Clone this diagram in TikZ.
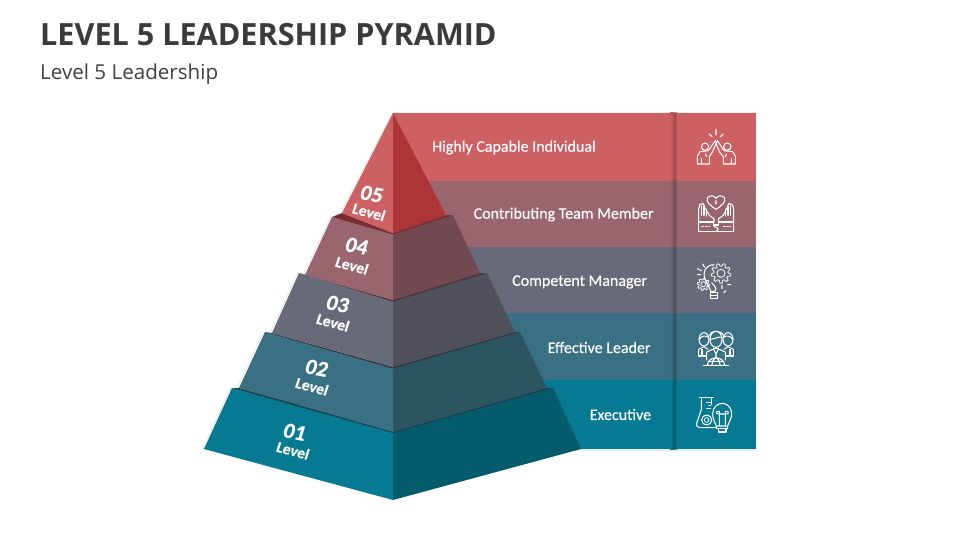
\documentclass[tikz,border=0pt]{standalone}
\usepackage{fontspec}
\setmainfont{Carlito}
\newfontfamily\titlefont{Open Sans}
\newfontfamily\bandfont[FakeBold=0.35]{Carlito}
\newfontfamily\numfont[FakeBold=0.5]{Carlito Bold}
\usetikzlibrary{calc}
\definecolor{redA}{HTML}{CD6063}
\definecolor{redB}{HTML}{AD3538}
\definecolor{redS}{HTML}{7A2D30}
\definecolor{rosA}{HTML}{99656F}
\definecolor{rosB}{HTML}{704A50}
\definecolor{rosS}{HTML}{4E3338}
\definecolor{gryA}{HTML}{676A78}
\definecolor{gryB}{HTML}{50505A}
\definecolor{gryS}{HTML}{3A3A44}
\definecolor{tlA}{HTML}{3A7083}
\definecolor{tlB}{HTML}{2C5562}
\definecolor{tlS}{HTML}{1E3E4A}
\definecolor{blA}{HTML}{067A92}
\definecolor{blB}{HTML}{035B6C}
\tikzset{
  titletext/.style={anchor=west,inner sep=0,font=\titlefont\bfseries\fontsize{30.6}{34}\selectfont,text=black!77},
  subtext/.style={anchor=west,inner sep=0,font=\titlefont\fontsize{20.6}{24}\selectfont,text=black!75},
  bandtext/.style={anchor=west,inner sep=0,text=white,font=\bandfont\fontsize{16}{18}\selectfont},
  numtext/.style={inner sep=0,text=white,transform shape,rotate=-11,xslant=0.1,font=\numfont\fontsize{22}{24}\selectfont},
  lvltext/.style={inner sep=0,text=white,transform shape,rotate=-15,xslant=0.05,font=\numfont\fontsize{15.5}{17}\selectfont},
  icon/.style={draw=white,line width=1.05pt,line join=round,line cap=round,fill=none},
  iconthin/.style={draw=white,line width=0.8pt,line join=round,line cap=round,fill=none},
  softedge/.style={draw=black!8,line width=1pt},
}
\newcommand{\gearicon}[4]{% x y r teeth (zoom units)
  \draw[iconthin] (#1,#2) circle[radius=#3*0.42];
  \draw[iconthin,domain=0:360,samples=#4*10+1,variable=\t] plot ({#1+(#3*(0.88+0.14*max(-1,min(1,4*sin(#4*\t)))))*cos(\t)},{#2+(#3*(0.88+0.14*max(-1,min(1,4*sin(#4*\t)))))*sin(\t)});
}
\begin{document}
\begin{tikzpicture}[x=1pt,y=-1pt]
\useasboundingbox (0,0) rectangle (960,540);
\fill[white] (0,0) rectangle (960,540);
\node[titletext] (title) at (40,34.5) {LEVEL 5 LEADERSHIP PYRAMID};
\node[subtext] (sub) at (40,74.5) {Level 5 Leadership};

% bands
\fill[black!8] (393,449) rectangle (758,450.5);
\fill[black!6] (393,112) rectangle (756,113);
\fill[redA] (393,113) rectangle (756,181);
\fill[rosA] (393,181) rectangle (756,247);
\fill[gryA] (393,247) rectangle (756,313);
\fill[tlA] (393,313) rectangle (756,380);
\fill[blA] (393,380) rectangle (756,449);
% divider
\foreach \ya/\yb/\c in {113/181/redA,181/247/rosA,247/313/gryA,313/380/tlA,380/449/blA}{
  \shade[left color=\c,right color=\c!78!black] (670,\ya) rectangle (674.5,\yb);
  \fill[\c!72!black] (674.5,\ya) rectangle (675.5,\yb);
  \shade[left color=\c!88!black,right color=\c] (675.5,\ya) rectangle (677,\yb);
}

% soft edges at the pyramid's left flank
\draw[softedge] (202.8,449) -- (231,387);
\draw[softedge] (238,386) -- (264,331);
\draw[softedge] (271,331) -- (298,272);
\draw[softedge] (304,273) -- (331,216);
\draw[softedge] (340.8,212) -- (392,113);

% pyramid: bottom tier first
\fill[blA] (232,388) -- (393,432) -- (393,500) -- (204,449) -- cycle;
\fill[blB] (553,388) -- (393,432) -- (393,500) -- (581,449) -- cycle;
\fill[tlS] (393,430) -- (239,388) -- (232,388) -- (393,433) -- (553,388) -- (547,388) -- cycle;

\fill[tlA] (265,332) -- (393,367) -- (393,432) -- (239,388) -- cycle;
\fill[tlB] (520,332) -- (393,367) -- (393,432) -- (547,388) -- cycle;
\fill[gryS!90!black] (272,333) -- (265,332) -- (393,368.5) -- (520,332) -- (515,332) -- (393,367) -- cycle;

\fill[gryA] (299,273) -- (393,300) -- (393,367) -- (272,333) -- cycle;
\fill[gryB] (487,273) -- (393,300) -- (393,367) -- (515,332) -- cycle;
\fill[rosS] (305,275) -- (299,273) -- (393,301.5) -- (487,273) -- (480,273) -- (393,300) -- cycle;

\fill[rosA] (332,217) -- (393,233) -- (393,300) -- (305,275) -- cycle;
\fill[rosB] (453,215) -- (393,233) -- (393,300) -- (480,273) -- cycle;
\fill[redS] (342,213) -- (332,217) -- (393,234.5) -- (453,215) -- (446,215) -- (393,233) -- cycle;

\fill[redA] (393,113) -- (393,233) -- (342,213) -- cycle;
\fill[redB] (393,113) -- (393,233) -- (446,215) -- cycle;

% labels
\node[bandtext] (b5) at (432,147.5) {Highly Capable Individual};
\node[bandtext] (b4) at (473.5,214.5) {Contributing Team Member};
\node[bandtext] (b3) at (512,282) {Competent Manager};
\node[bandtext] (b2) at (547.5,347.5) {Effective Leader};
\node[bandtext] (b1) at (589.5,414.5) {Executive};

\node[numtext] (n5) at (372,194) {05};
\node[lvltext] (l5) at (369,212) {Level};
\node[numtext] (n4) at (357,246) {04};
\node[lvltext] (l4) at (352,265.5) {Level};
\node[numtext] (n3) at (338,304) {03};
\node[lvltext] (l3) at (333,322.5) {Level};
\node[numtext] (n2) at (317,368) {02};
\node[lvltext] (l2) at (312,386.5) {Level};
\node[numtext] (n1) at (295,432) {01};
\node[lvltext] (l1) at (293,450.5) {Level};

% icon 1: high five (zoom units: origin 660,110, 1/3 scale)
\begin{scope}[shift={(660,110)},x=0.3333pt,y=-0.3333pt]
  \draw[icon] (168,58) -- (168,75) (148,72) -- (156,80) (190,72) -- (181,80);
  \draw[icon] (135,110) circle[radius=11] (202,110) circle[radius=11];
  \draw[icon] (112,162) -- (112,138) -- (120,125) -- (145,122) -- (166,92) -- (170,96) -- (158,125) -- (148,140) -- (148,162) -- cycle;
  \draw[icon] (226,162) -- (226,138) -- (218,125) -- (192,122) -- (172,92) -- (168,100) -- (178,125) -- (190,140) -- (190,162) -- cycle;
  \draw[icon] (124,145) -- (124,160) (214,145) -- (214,160) (136,132) -- (140,140) (200,132) -- (196,140);
\end{scope}
% icon 2: hands and heart
\begin{scope}[shift={(660,110)},x=0.3333pt,y=-0.3333pt]
  \draw[icon] (168,298) .. controls (150,288) and (136,272) .. (143,263) .. controls (150,255) and (163,256) .. (168,265) .. controls (173,256) and (186,255) .. (193,263) .. controls (200,272) and (186,288) .. (168,298);
  \node[inner sep=0,text=white,font=\bfseries\fontsize{6.5}{6}\selectfont] (dollar) at (168,279) {\$};
  \draw[icon] (116,365) -- (116,296) -- (120,283) -- (130,281) -- (136,296) -- (148,316) -- (162,326) -- (162,336);
  \draw[icon] (221,365) -- (221,296) -- (216,283) -- (206,281) -- (200,296) -- (190,316) -- (176,326) -- (176,336);
  \draw[icon] (124,288) -- (124,316) (132,288) -- (132,316) (140,298) -- (140,318) (212,288) -- (212,316) (204,288) -- (204,316) (196,298) -- (196,318);
  \draw[icon] (116,365) -- (221,365) (116,336) -- (160,336) -- (160,345) -- (176,345) -- (176,336) -- (221,336);
  \draw[icon] (162,345) .. controls (158,352) and (178,352) .. (174,358) -- (168,365);
  \draw[iconthin,dash pattern=on 2pt off 1.5pt] (125,350) -- (148,350) (190,350) -- (213,350);
\end{scope}
% icon 3: bulb and gears (origin 660,250)
\begin{scope}[shift={(660,250)},x=0.3333pt,y=-0.3333pt]
  \gearicon{183}{70}{29}{9}
  \gearicon{130}{103}{18}{8}
  \draw[icon] (155,98) .. controls (168,112) and (170,115) .. (165,124) -- (152,124) .. controls (150,115) and (142,104) .. (136,90) .. controls (125,65) and (140,42) .. (162,45);
  \draw[icon] (152,128) -- (172,128) -- (172,145) -- (152,145) -- cycle (152,136) -- (172,136);
  \draw[icon] (112,56) -- (124,62) (112,74) -- (122,74) (128,42) -- (134,52) (186,106) -- (186,116) (197,122) -- (191,128) (203,104) -- (212,104);
\end{scope}
% icon 4: three people (origin 660,250)
\begin{scope}[shift={(660,250)},x=0.3333pt,y=-0.3333pt]
  \draw[icon] (132,268) circle[x radius=15,y radius=20] (204,268) circle[x radius=15,y radius=20];
  \draw[icon] (168,268) circle[x radius=18,y radius=24];
  \draw[icon] (148,256) .. controls (150,240) and (186,240) .. (190,256) (150,268) .. controls (165,268) and (175,258) .. (186,262);
  \draw[icon] (118,268) .. controls (125,256) and (135,256) .. (146,262) (190,262) .. controls (200,256) and (210,256) .. (218,268);
  \draw[icon] (116,318) -- (116,298) -- (132,290) -- (144,298);
  \draw[icon] (220,318) -- (220,298) -- (204,290) -- (192,298);
  \draw[icon] (116,318) -- (140,318) (196,318) -- (220,318) (126,298) -- (126,318) (210,298) -- (210,318);
  \draw[icon] (140,330) -- (140,306) -- (168,294) -- (196,306) -- (196,330);
  \draw[icon] (160,296) -- (168,312) -- (176,296) (168,312) -- (168,322);
  \draw[icon] (130,346) -- (206,346) (142,346) .. controls (144,316) and (192,316) .. (194,346);
  \draw[icon] (156,346) .. controls (156,332) and (162,326) .. (168,322) .. controls (174,326) and (180,332) .. (180,346) (147,334) -- (189,334);
\end{scope}
% icon 5: flask and bulb (origin 660,370)
\begin{scope}[shift={(660,370)},x=0.3333pt,y=-0.3333pt]
  \draw[icon] (118,83) -- (160,83) (124,83) -- (124,92) (154,83) -- (154,104);
  \draw[icon] (124,92) -- (124,118) -- (110,160) .. controls (108,170) and (115,173) .. (122,173) -- (170,173);
  \draw[iconthin] (140,98) -- (152,98) (146,106) -- (152,106) (140,114) -- (152,114);
  \draw[icon] (140,150) circle[radius=15];
  \draw[iconthin] (140,150) circle[radius=7];
  \draw[icon] (170,173) .. controls (165,155) and (158,150) .. (158,130) .. controls (158,110) and (175,100) .. (187,100) .. controls (200,100) and (215,112) .. (215,130) .. controls (215,150) and (205,155) .. (203,168) -- (170,168);
  \draw[icon] (170,176) -- (203,176) (176,186) -- (198,186) (170,168) -- (170,176) (203,168) -- (203,176) (176,176) -- (176,186) (198,176) -- (198,186);
  \draw[icon] (178,168) -- (178,132) (196,168) -- (196,132) (178,132) .. controls (166,135) and (166,120) .. (178,124) -- (178,132) (178,132) -- (196,132) (196,132) .. controls (208,135) and (208,120) .. (196,124) -- (196,132);
\end{scope}
\end{tikzpicture}
\end{document}
